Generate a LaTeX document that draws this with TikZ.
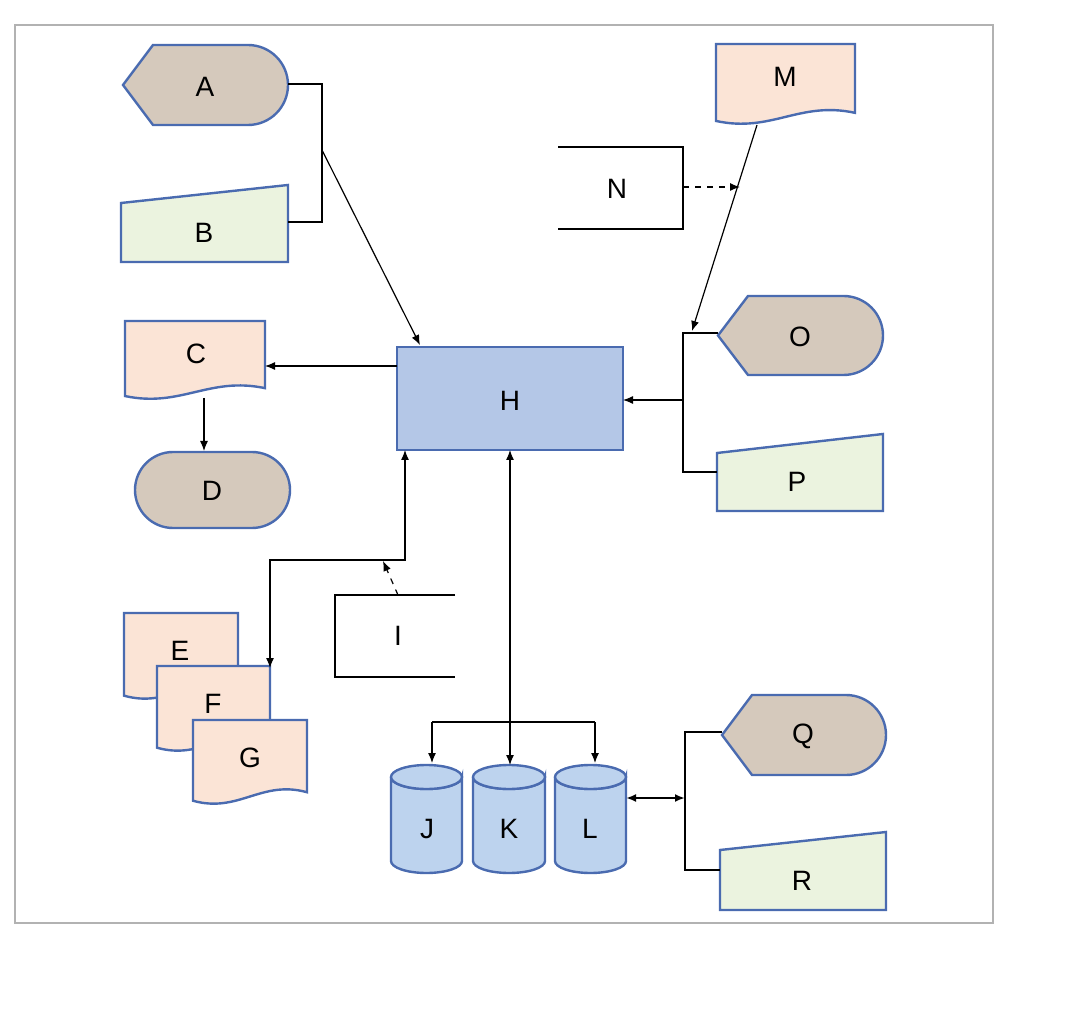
\documentclass[tikz,border=0pt]{standalone}
\usepackage{fontspec}
\setmainfont{Liberation Sans}
\usetikzlibrary{arrows.meta}
\definecolor{tanc}{HTML}{D5C9BC}
\definecolor{grn}{HTML}{EBF3DF}
\definecolor{pnk}{HTML}{FBE4D6}
\definecolor{blu}{HTML}{B4C7E7}
\definecolor{cyl}{HTML}{BDD3EE}
\definecolor{edge}{HTML}{4A6BB0}
\tikzset{shp/.style={draw=edge,line width=1.2pt},
 lbl/.style={font=\fontsize{14}{16}\selectfont},
 con/.style={line width=0.6pt,-{Latex[length=5pt,width=4pt]}},
 ln/.style={line width=0.6pt},
 brk/.style={line width=1.1pt}}
\newcommand\dispshape[4]{%
 \pgfmathsetmacro\hh{(#4-#2)/2}
 \draw[shp,fill=tanc] (#1,{#2+\hh}) -- ({#1+30},#2) -- ({#3-\hh},#2) arc[start angle=-90,end angle=90,radius=\hh] -- ({#1+30},#4) -- cycle;}
\newcommand\maninput[5]{% x1 y1top-left y1top-right x2 y2
 \draw[shp,fill=grn] (#1,#2) -- (#4,#3) -- (#4,#5) -- (#1,#5) -- cycle;}
\newcommand\docshape[4]{%
 \pgfmathsetmacro\w{#3-#1}\pgfmathsetmacro\h{#4-#2}
 \draw[shp,fill=pnk] (#1,#2) -- (#3,#2) -- (#3,{#4-0.15*\h}) .. controls ({#1+0.6*\w},{#4-0.3*\h}) and ({#1+0.4*\w},{#4+0.1*\h}) .. (#1,{#4-0.05*\h}) -- cycle;}
\newcommand\cylshape[4]{%
 \pgfmathsetmacro\rx{(#3-#1)/2}
 \draw[shp,fill=cyl] (#1,{#2+12}) -- (#1,{#4-12}) arc[start angle=180,end angle=0,x radius=\rx,y radius=12] -- (#3,{#2+12}) arc[start angle=0,end angle=180,x radius=\rx,y radius=12];
 \draw[shp,fill=cyl] ({#1+\rx},{#2+12}) ellipse[x radius=\rx,y radius=12];}
\begin{document}
\begin{tikzpicture}[x=0.5pt,y=-0.5pt]
\useasboundingbox (0,0) rectangle (1082,1010);
\draw[gray!60,line width=0.8pt] (15,25) rectangle (993,923);
% shapes
\dispshape{123}{45}{288}{125}
\maninput{121}{203}{185}{288}{262}
\docshape{125}{321}{265}{400}
\draw[shp,fill=tanc] (173,452) -- (252,452) arc[start angle=-90,end angle=90,radius=38] -- (173,528) arc[start angle=90,end angle=270,radius=38] -- cycle;
\docshape{124}{613}{238}{700}
\docshape{157}{666}{270}{752}
\docshape{193}{720}{307}{805}
\draw[shp,fill=blu] (397,347) rectangle (623,450);
\draw[brk] (455,595) -- (335,595) -- (335,677) -- (455,677);
\draw[brk] (558,147) -- (683,147) -- (683,229) -- (558,229);
\docshape{716}{44}{855}{125}
\dispshape{718}{296}{883}{375}
\maninput{717}{453}{434}{883}{511}
\dispshape{722}{695}{886}{775}
\maninput{720}{850}{832}{886}{910}
\cylshape{391}{765}{462}{873}
\cylshape{473}{765}{545}{873}
\cylshape{555}{765}{626}{873}
% labels
\node[lbl] (A) at (205,87) {A};
\node[lbl] (B) at (204,233) {B};
\node[lbl] (C) at (196,354) {C};
\node[lbl] (D) at (212,491) {D};
\node[lbl] (E) at (180,651) {E};
\node[lbl] (F) at (213,704) {F};
\node[lbl] (G) at (250,758) {G};
\node[lbl] (H) at (510,401) {H};
\node[lbl] (I) at (398,636) {I};
\node[lbl] (N) at (617,189) {N};
\node[lbl] (M) at (785,77) {M};
\node[lbl] (O) at (800,337) {O};
\node[lbl] (P) at (797,482) {P};
\node[lbl] (Q) at (803,736) {Q};
\node[lbl] (R) at (802,881) {R};
\node[lbl] (J) at (427,829) {J};
\node[lbl] (K) at (509,829) {K};
\node[lbl] (L) at (590,829) {L};
% connection coordinates
\coordinate (Ar) at (288,84); \coordinate (Br) at (288,222);
\coordinate (ABj) at (322,150); \coordinate (Ht) at (420,345);
\coordinate (Hl) at (397,366); \coordinate (Cr) at (265,366);
\coordinate (Cb) at (204,398); \coordinate (Dt) at (204,451);
\coordinate (Hb1) at (405,450); \coordinate (Ft) at (270,668);
\coordinate (It) at (398,595); \coordinate (Ij) at (383,561);
\coordinate (Hb2) at (510,450); \coordinate (Kt) at (510,765);
\coordinate (Jt) at (432,763); \coordinate (Lt) at (595,763);
\coordinate (Lr) at (626,798); \coordinate (QRj) at (685,798);
\coordinate (Ql) at (722,732); \coordinate (Rl) at (720,870);
\coordinate (Nr) at (683,187); \coordinate (Nm) at (740,187);
\coordinate (Mb) at (757,125); \coordinate (OPa) at (692,331);
\coordinate (Ol) at (718,333); \coordinate (Pl) at (717,472);
\coordinate (OPj) at (683,400); \coordinate (Hr) at (623,400);
% connectors
\draw[ln] (Ar) -- (322,84) -- (322,222) -- (Br);
\draw[con] (ABj) -- (Ht);
\draw[con] (Hl) -- (Cr);
\draw[con] (Cb) -- (Dt);
\draw[con,{Latex[length=5pt,width=4pt]}-{Latex[length=5pt,width=4pt]}] (Hb1) -- (405,560) -- (270,560) -- (Ft);
\draw[con,dashed] (It) -- (Ij);
\draw[con,{Latex[length=5pt,width=4pt]}-{Latex[length=5pt,width=4pt]}] (Hb2) -- (Kt);
\draw[ln] (432,722) -- (595,722);
\draw[con] (432,722) -- (Jt);
\draw[con] (595,722) -- (Lt);
\draw[con,{Latex[length=5pt,width=4pt]}-{Latex[length=5pt,width=4pt]},line width=1pt] (Lr) -- (QRj);
\draw[ln] (Ql) -- (685,732) -- (685,870) -- (Rl);
\draw[con,dashed] (Nr) -- (Nm);
\draw[con] (Mb) -- (OPa);
\draw[ln] (Ol) -- (683,333) -- (683,472) -- (Pl);
\draw[con] (OPj) -- (Hr);
\end{tikzpicture}
\end{document}
